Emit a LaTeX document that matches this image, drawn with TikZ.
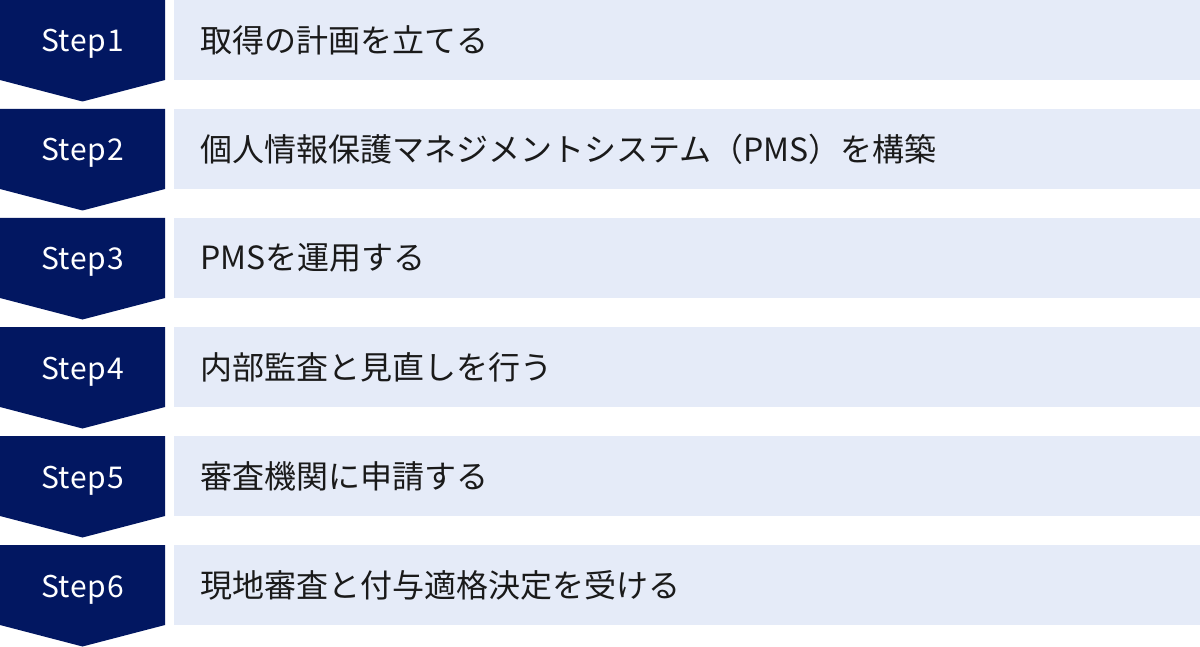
\documentclass[tikz,border=0pt]{standalone}
\usepackage{fontspec}
\setmainfont{Noto Sans CJK JP}
\newfontfamily\jpfont{Noto Sans CJK JP}
\newfontfamily\stepfont[LetterSpace=2.5]{Noto Sans CJK JP}
\definecolor{navy}{HTML}{021761}
\definecolor{pale}{HTML}{E5EBF8}
\definecolor{ink}{HTML}{1A1A1A}
\tikzset{
  steplabel/.style={text=white, font=\stepfont\fontsize{30}{34}\selectfont, anchor=base, inner sep=0pt},
  barlabel/.style={text=ink, font=\jpfont\fontsize{32}{36}\selectfont, anchor=west, inner sep=0pt},
}
\begin{document}
\begin{tikzpicture}[x=1pt,y=-1pt]
\useasboundingbox (0,0) rectangle (1200,647);
\fill[white] (0,0) rectangle (1200,647);
\foreach \i/\txt in {0/取得の計画を立てる,1/個人情報保護マネジメントシステム（PMS）を構築,2/PMSを運用する,3/内部監査と見直しを行う,4/審査機関に申請する,5/現地審査と付与適格決定を受ける}{
  \pgfmathsetmacro{\yo}{109*\i}
  \fill[navy] (0,\yo) -- (165,\yo) -- (165,\yo+80) -- (82.5,\yo+101.5) -- (0,\yo+80) -- cycle;
  \fill[pale] (174,\yo) rectangle (1200,\yo+80);
  \pgfmathtruncatemacro{\n}{\i+1}
  \node[steplabel] (s\n) at (82.5,\yo+52) {Step\n};
  \node[barlabel] (t\n) at (200,\yo+40) {\txt};
}
\end{tikzpicture}
\end{document}
